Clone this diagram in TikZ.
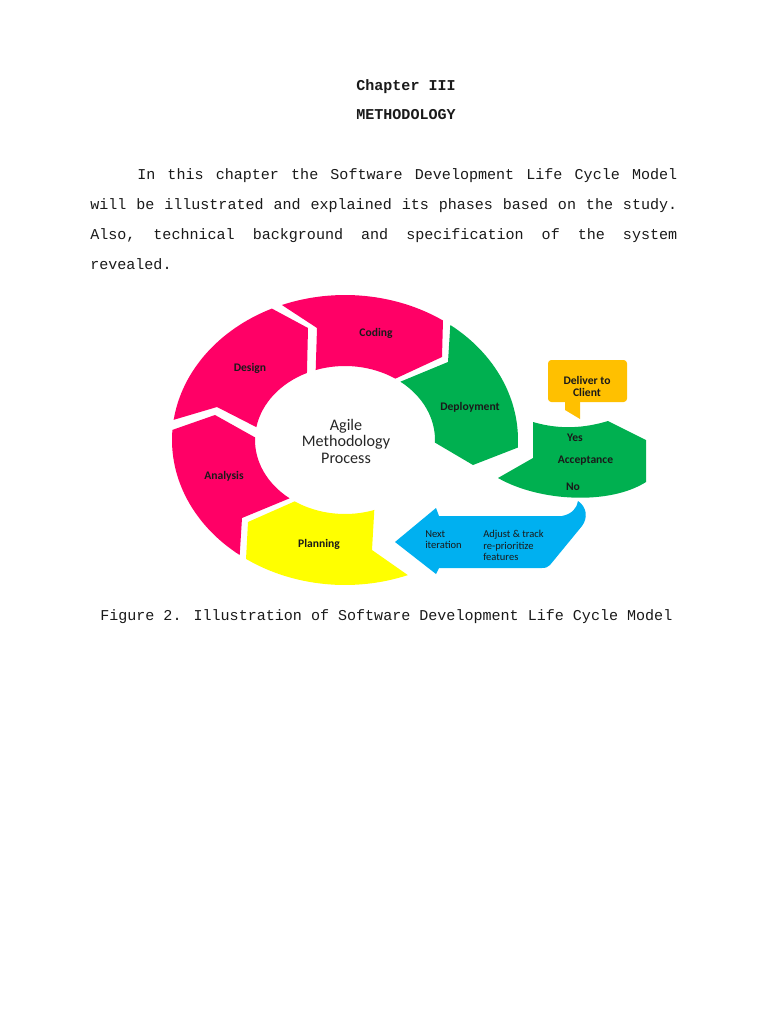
\documentclass[tikz,border=0pt]{standalone}
\usepackage{fontspec}
\newfontfamily\courier{Liberation Mono}
\newfontfamily\calibri{Carlito}
\usetikzlibrary{calc}
\definecolor{pinkc}{HTML}{FF0066}
\definecolor{greenc}{HTML}{00B050}
\definecolor{yellowc}{HTML}{FFFF00}
\definecolor{bluec}{HTML}{00B0F0}
\definecolor{amberc}{HTML}{FFC000}
\definecolor{txt}{HTML}{1A1A1A}
\begin{document}
\begin{tikzpicture}[x=0.75pt,y=-0.75pt,
  body/.style={font=\courier\fontsize{11.29}{13}\selectfont, inner sep=0, anchor=base west, text=txt},
  head/.style={font=\courier\bfseries\fontsize{11.29}{13}\selectfont, inner sep=0, anchor=base, text=txt},
  lab/.style={font=\calibri\bfseries\fontsize{8.7}{10}\selectfont, inner sep=0, text=txt},
  small/.style={font=\calibri\fontsize{7.9}{8.6}\selectfont, inner sep=0, align=left, anchor=west, text=txt},
  title/.style={font=\calibri\fontsize{12.1}{12.4}\selectfont, inner sep=0, align=center, text=black!85},
  oarc/.style={x radius=173, y radius=145},
  iarc/.style={x radius=90, y radius=74}]
\useasboundingbox[fill=white] (0,0) rectangle (768,1024);
\coordinate (c) at (345,440);

% header text
\node[head] (ch) at (406,90) {Chapter III};
\node[head] (meth) at (406,119.5) {METHODOLOGY};
\node[body] (l1) at (137,179) {\makebox[405pt][s]{In\hfill this\hfill chapter\hfill the\hfill Software\hfill Development\hfill Life\hfill Cycle\hfill Model}};
\node[body] (l2) at (90,209) {\makebox[440.25pt][s]{will\hfill be\hfill illustrated\hfill and\hfill explained\hfill its\hfill phases\hfill based\hfill on\hfill the\hfill study.}};
\node[body] (l3) at (90,239) {\makebox[440.25pt][s]{Also,\hfill technical\hfill background\hfill and\hfill specification\hfill of\hfill the\hfill system}};
\node[body] (l4) at (90,269) {revealed.};

% ring segments
\fill[pinkc] ($(c)+(188:173 and 145)$) arc[start angle=188,end angle=245,oarc] -- (308,328)
  -- ($(c)+(245:90 and 74)$) arc[start angle=245,end angle=190,iarc] -- (217,407) -- cycle;
\fill[pinkc] ($(c)+(248.6:173 and 145)$) arc[start angle=248.6,end angle=304.5,oarc] -- (442,357)
  -- ($(c)+(304:90 and 74)$) arc[start angle=304,end angle=251,iarc] -- (317,328) -- cycle;
\fill[greenc] ($(c)+(307.5:173 and 145)$) arc[start angle=307.5,end angle=363,oarc] -- (473,465)
  -- ($(c)+(362:90 and 74)$) arc[start angle=362,end angle=308,iarc] -- (448,362) -- cycle;
\fill[pinkc] ($(c)+(127.5:173 and 145)$) arc[start angle=127.5,end angle=184,oarc] -- (215,415)
  -- ($(c)+(182:90 and 74)$) arc[start angle=182,end angle=128,iarc] -- (242,518) -- cycle;
\fill[yellowc] ($(c)+(124.9:173 and 145)$) -- (248,522)
  -- ($(c)+(124:90 and 74)$) arc[start angle=124,end angle=71,iarc] -- (372,550)
  -- ($(c)+(68.7:173 and 145)$) arc[start angle=68.7,end angle=124.9,oarc] -- cycle;

% acceptance
\fill[greenc] (533,422) .. controls (560,430) and (585,428) .. (608,421) -- (646,440) -- (646,482)
  .. controls (610,505) and (540,502) .. (498,478) -- (533,458) -- cycle;
% callout
\fill[amberc, rounded corners=2.5] (548,360) rectangle (627,402);
\fill[amberc] (565,400) -- (565,410) -- (580,419) -- (580,400) -- cycle;
% blue arrow
\fill[bluec] (395,542) -- (436,508) -- (439,516) -- (562,516) .. controls (572,514) and (577,508) .. (578,501)
  .. controls (587,507) and (588,518) .. (582,526) -- (550,565) .. controls (548,567) and (546,568) .. (542,568)
  -- (439,568) -- (436,574) -- cycle;

% labels
\node[lab] (design) at (250,368) {Design};
\node[lab] (coding) at (376,333) {Coding};
\node[lab] (deploy) at (470,407) {Deployment};
\node[lab] (analysis) at (224,476) {Analysis};
\node[lab] (planning) at (319,544) {Planning};
\node[title] (agile) at (346,441) {Agile\\Methodology\\Process};
\node[lab] (yes) at (575,438) {Yes};
\node[lab] (acc) at (585.5,460.5) {Acceptance};
\node[lab] (no) at (573,487) {No};
\node[lab, align=center, font=\calibri\bfseries\fontsize{8.7}{8.4}\selectfont] (deliver) at (587,386.5) {Deliver to\\Client};
\node[small] (next) at (425,539.5) {Next\\iteration};
\node[small] (adjust) at (483,545.5) {Adjust \& track\\re-prioritize\\features};

% caption
\node[body] (cap) at (100,620) {Figure 2. Illustration of Software Development Life Cycle Model};
\end{tikzpicture}
\end{document}
